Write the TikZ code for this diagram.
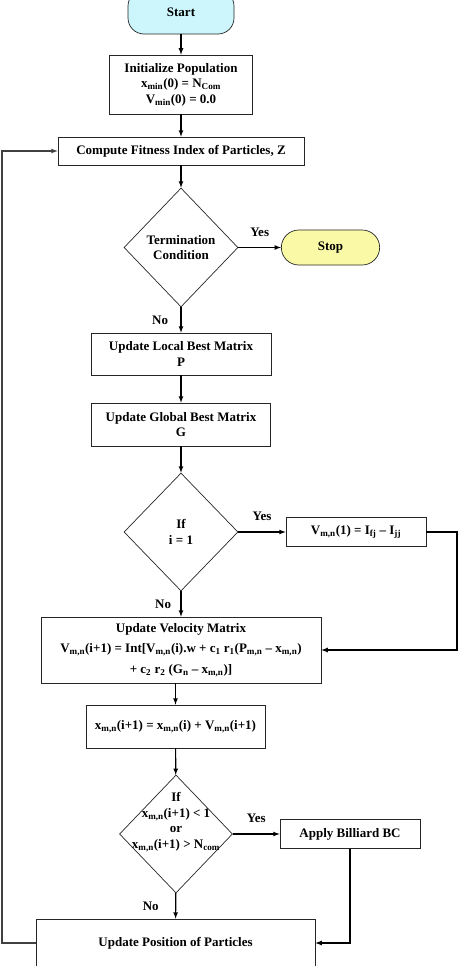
\documentclass[tikz,border=0pt]{standalone}
\usepackage{fontspec}
\setmainfont{Liberation Serif}
\usetikzlibrary{shapes.geometric,shapes.misc}

\newcommand{\sbs}[1]{\textsubscript{#1}}
\definecolor{startfill}{HTML}{CCF6FB}
\definecolor{stopfill}{HTML}{FAFAA6}

\tikzset{
    box/.style={draw=black!85, line width=0.7pt, rectangle, align=center, inner sep=2pt},
    stopbox/.style={draw=black!85, line width=0.7pt, rounded rectangle, fill=stopfill},
    decision/.style={draw=black!85, line width=0.7pt, diamond, inner sep=0pt},
    dtext/.style={align=center}
}

\begin{document}
\begin{tikzpicture}[>=latex, x=1pt, y=-1pt, line width=1.2pt,
    font=\bfseries\fontsize{13}{15.5}\selectfont]
        \useasboundingbox (0,0) rectangle (474,966);

        \node[box, fill=startfill, rounded corners=16pt, minimum width=106pt, minimum height=44pt] (start) at (181,12) {Start};
        \node[box, minimum width=143pt, minimum height=59pt] (init) at (181,84.5)
            {Initialize Population\\x\sbs{min}(0) = N\sbs{Com}\\V\sbs{min}(0) = 0.0};
        \node[box, minimum width=246pt, minimum height=28pt] (fit) at (181,151) {Compute Fitness Index of Particles, Z};

        \node[decision, minimum width=114pt, minimum height=119pt] (d1) at (181,247.5) {};
        \node[dtext] (d1t) at (d1) {Termination\\Condition};
        \node[stopbox, minimum width=105pt, minimum height=35pt] (stop) at (330.5,247.5) {Stop};

        \node[box, minimum width=180pt, minimum height=42pt] (local) at (181,354) {Update Local Best Matrix\\P};
        \node[box, minimum width=179pt, minimum height=43pt] (global) at (181,424.5) {Update Global Best Matrix\\G};

        \node[decision, minimum width=114pt, minimum height=118pt] (d2) at (181,532) {};
        \node[dtext] (d2t) at (d2) {If\\i = 1};
        \node[box, minimum width=140pt, minimum height=29pt] (v1) at (356,532) {V\sbs{m,n}(1) = I\sbs{fj} -- I\sbs{jj}};

        \node[box, minimum width=280pt, minimum height=66pt, font=\bfseries\fontsize{13}{20.5}\selectfont] (vel) at (181,650)
            {Update Velocity Matrix\\V\sbs{m,n}(i+1) = Int[V\sbs{m,n}(i).w + c\sbs{1} r\sbs{1}(P\sbs{m,n} -- x\sbs{m,n})\\+ c\sbs{2} r\sbs{2} (G\sbs{n} -- x\sbs{m,n})]};
        \node[box, minimum width=179pt, minimum height=43pt] (xup) at (175.5,726.5) {x\sbs{m,n}(i+1) = x\sbs{m,n}(i) + V\sbs{m,n}(i+1)};

        \node[decision, minimum width=113pt, minimum height=118pt] (d3) at (176,834) {};
        \node[dtext] (d3t) at ([yshift=12pt]d3.center) {If\\x\sbs{m,n}(i+1) < 1\\or\\x\sbs{m,n}(i+1) > N\sbs{com}};
        \node[box, minimum width=140pt, minimum height=29pt] (bc) at (350,834) {Apply Billiard BC};

        \node[box, minimum width=279pt, minimum height=48pt] (pos) at (175.5,943) {Update Position of Particles};

        \coordinate (vr) at (457,532);
        \coordinate (back) at (2,943);

        \draw[->] (start) -- (init);
        \draw[->] (init) -- (fit);
        \draw[->] (fit) -- (d1);
        \draw[->] (d1) -- node[above=7pt] (yes1) {Yes} (stop);
        \draw[->] (d1) -- node[left=9pt] (no1) {No} (local);
        \draw[->] (local) -- (global);
        \draw[->] (global) -- (d2);
        \draw[->] (d2) -- node[above=7pt] (yes2) {Yes} (v1);
        \draw[->] (d2) -- node[left=6pt] (no2) {No} (vel);
        \draw[->] (v1.east) -- (vr) |- (vel.east);
        \draw[->] (xup.north |- vel.south) -- (xup.north);
        \draw[->] (xup) -- (d3);
        \draw[->] (d3) -- node[above=7pt] (yes3) {Yes} (bc);
        \draw[->] (d3) -- node[left=13pt] (no3) {No} (pos);
        \draw[->] (bc.south) |- (pos.east);
        \draw[->, draw=black!75] (pos.west) -- (back) |- (fit.west);   % loop back to fitness

\end{tikzpicture}
\end{document}
